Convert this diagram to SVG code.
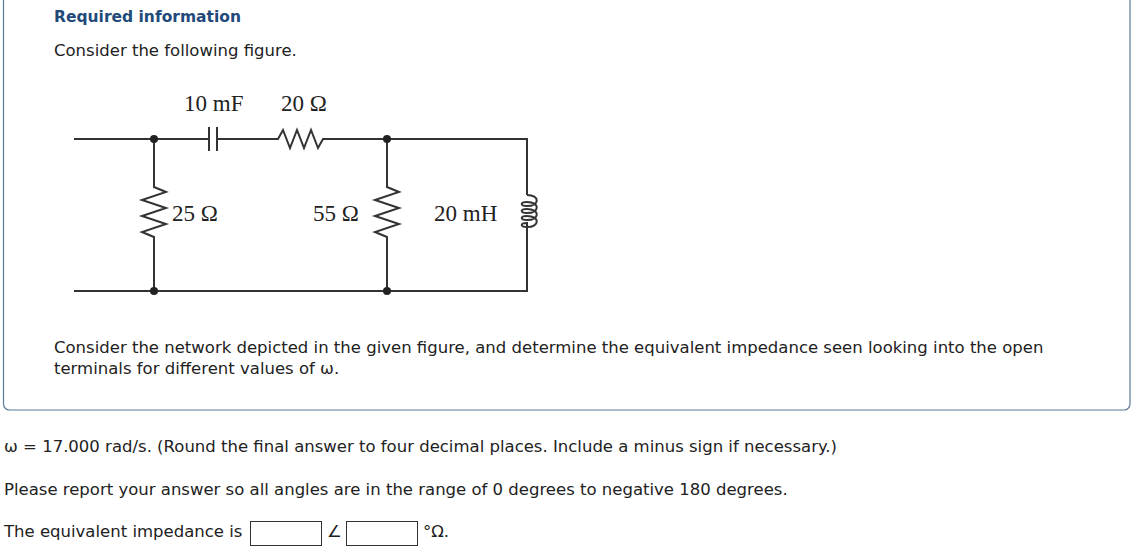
<svg xmlns="http://www.w3.org/2000/svg" width="1134" height="556" viewBox="0 0 1134 556">
<style>
.t{font-family:"DejaVu Sans",sans-serif;font-size:16.5px;fill:#222}
.c{font-family:"Liberation Serif",serif;font-size:23px;fill:#222}
.w{fill:none;stroke:#333;stroke-width:2}
.box{fill:#fff;stroke:#333;stroke-width:1}
</style>
<rect width="1134" height="556" fill="#fff"/>
<path d="M3.5 0 V404 a6 6 0 0 0 6 6 H1124 a6 6 0 0 0 6 -6 V0" fill="none" stroke="#5a7a9a" stroke-width="1.2"/>
<g id="header">
<text x="54" y="22" class="t" style="font-weight:bold;font-size:15.5px;fill:#1f4a7a">Required information</text>
<text x="54" y="56" class="t">Consider the following figure.</text>
</g>
<g id="connectors">
<path class="w" d="M74 139 H209 M217 139 H278 l5 -9 l7 18 l7 -18 l7 18 l7 -18 l7 18 l5 -9 H527 V195 M527 244 V291 H74"/>
<path class="w" d="M154 139 V187 l12 5 l-24 8 l24 8 l-24 8 l24 8 l-24 8 l12 5 V291"/>
<path class="w" d="M387 139 V187 l12 5 l-24 8 l24 8 l-24 8 l24 8 l-24 8 l12 5 V291"/>
</g>
<g id="capacitor"><path class="w" d="M209 127 V151 M217 127 V151"/><text x="184" y="111" class="c">10 mF</text></g>
<g id="r20"><text x="281" y="111" class="c">20 Ω</text></g>
<g id="r25"><text x="172" y="221" class="c">25 Ω</text></g>
<g id="r55"><text x="313" y="221" class="c">55 Ω</text></g>
<g id="inductor"><path class="w" d="M527 195 c13 0 13 11 0 11 c-7 0 -7 -4 0 -4 c13 0 13 11 0 11 c-7 0 -7 -4 0 -4 c13 0 13 11 0 11 c-7 0 -7 -4 0 -4 c13 0 13 11 0 11 c-7 0 -7 -4 0 -4 V244"/><text x="434" y="221" class="c">20 mH</text></g>
<g id="nodes" fill="#222"><circle cx="154" cy="139" r="4"/><circle cx="387" cy="139" r="4"/><circle cx="154" cy="291" r="4"/><circle cx="387" cy="291" r="4"/></g>
<g id="question">
<text x="54" y="353" class="t">Consider the network depicted in the given figure, and determine the equivalent impedance seen looking into the open</text>
<text x="54" y="374" class="t">terminals for different values of ω.</text>
<text x="4" y="452" class="t">ω = 17.000 rad/s. (Round the final answer to four decimal places. Include a minus sign if necessary.)</text>
<text x="4" y="495" class="t">Please report your answer so all angles are in the range of 0 degrees to negative 180 degrees.</text>
<text x="4" y="537" class="t">The equivalent impedance is</text>
<rect class="box" x="250.5" y="521.5" width="71" height="24"/>
<text x="327" y="537" class="t">∠</text>
<rect class="box" x="346.5" y="521.5" width="71" height="24"/>
<text x="423" y="537" class="t">°Ω.</text>
</g>
</svg>
